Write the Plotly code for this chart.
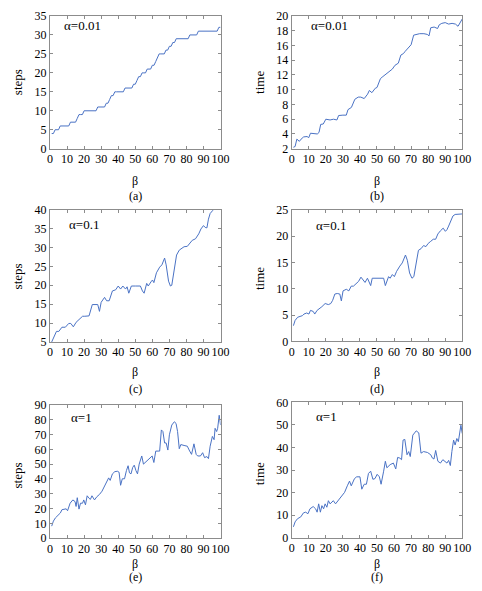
import plotly.graph_objects as go

# ventana 482x591; la pagina tiene 8 px de margen en el body
OFF = 8
W, H = 482 - OFF, 591 - OFF

# (a) pasos, alpha = 0.01  (beta = 1..100)
beta_a = list(range(1, 101))
steps_a = [4, 4, 5, 5, 5, 6, 6, 6, 6, 6,
           6, 7, 7, 7, 7, 8, 9, 9, 9, 10,
           10, 10, 10, 10, 10, 10, 10, 11, 11, 11,
           11, 11, 12, 12, 13, 14, 14, 15, 15, 15,
           15, 15, 15, 16, 16, 16, 16, 16, 17, 17,
           18, 19, 19, 20, 20, 20, 21, 21, 21, 22,
           22, 23, 24, 25, 25, 25, 25, 26, 26, 27,
           27, 28, 28, 29, 29, 29, 29, 29, 29, 29,
           29, 30, 30, 30, 30, 30, 31, 31, 31, 31,
           31, 31, 31, 31, 31, 31, 31, 31, 32, 32]

# (b) tiempo, alpha = 0.01
beta_b = [1, 2, 3, 4.5, 5.5, 7, 9, 10, 11, 13, 15, 16, 17, 18.5, 20, 22.5, 24.5, 26.5, 27.5, 30,
          32, 33, 35, 37, 39, 40.5, 42.5, 44.5, 45.5, 47, 49, 50, 52, 53, 54.5, 56, 57.5, 59, 60.5, 62.5,
          64, 65.5, 66.5, 68.5, 70, 71.5, 73, 75, 77.5, 79.5, 80.5, 81.5, 83.5, 85.5, 86.5, 88, 90, 92, 94, 96,
          97.5, 99, 100]
time_b = [2.2, 2.3, 3.3, 3.0, 3.3, 3.6, 3.65, 3.5, 4.1, 4.1, 4.0, 4.2, 5.3, 5.35, 6.0, 5.9, 6.0, 5.9, 6.5, 6.55,
          6.55, 7.3, 7.6, 8.7, 9.0, 9.0, 8.8, 9.4, 9.9, 9.6, 10.2, 10.3, 11.5, 11.7, 12.0, 12.3, 12.5, 12.8, 13.3, 13.6,
          14.7, 14.9, 15.2, 15.8, 16.1, 17.4, 17.5, 17.6, 17.6, 17.5, 17.3, 18.4, 18.5, 18.3, 18.8, 19.0, 19.1, 18.9, 19.0, 18.9,
          18.6, 19.2, 19.6]

# (c) pasos, alpha = 0.1
beta_c = [1, 2.3, 3.8, 5.2, 7, 9, 11, 12.2, 13.7, 15.3, 16.6, 17.6, 19.1, 20.4, 22.9, 24.8, 27, 28, 29, 30,
          32, 33.2, 34.7, 36.6, 38.5, 40, 41.4, 42.7, 44.3, 45.2, 46.2, 47.7, 50, 53, 54.2, 55.2, 56.7, 57.6, 59.2, 60.1,
          60.9, 62.4, 64.3, 65.6, 67.2, 68.1, 69.5, 70.6, 71.4, 72.9, 74.2, 75.8, 77.1, 78.6, 80.5, 81.9, 83.4, 85.3, 87.2, 88.5,
          90, 91, 92, 92.9, 93.9, 95.4, 97, 100]
steps_c = [5, 6.5, 7.8, 7.8, 8.9, 8.9, 9.9, 9.9, 9.0, 10.2, 10.8, 11.0, 11.8, 11.8, 11.9, 14.9, 14.9, 14.9, 13.1, 15.5,
           16.8, 15.9, 15.9, 18.5, 18.8, 19.8, 19.0, 19.8, 19.0, 19.6, 17.9, 19.8, 19.8, 19.8, 18.5, 17.9, 20.5, 19.8, 20.9, 21.4,
           20.7, 23.3, 24.8, 25.4, 27.2, 25.4, 21.1, 19.8, 20.0, 24.1, 28.0, 29.3, 29.7, 30.2, 30.3, 31.2, 31.9, 32.3, 33.6, 34.9,
           35.8, 35.3, 35.2, 37.5, 39.0, 39.8, 41, 43]

# (d) tiempo, alpha = 0.1
beta_d = [1, 2, 3.5, 5.3, 6.3, 7.2, 8.8, 10.1, 11, 12.6, 13.5, 14.9, 16.4, 17.7, 19.6, 21.5, 22.9, 24, 25.3, 26.7,
          28.2, 29.1, 30.1, 32, 33.5, 34.9, 36.2, 37.7, 39.2, 40.6, 41.9, 43, 44.4, 45.3, 46.3, 47.2, 49, 52, 53.9, 54.9,
          55.8, 56.8, 57.7, 59, 60.2, 61.5, 63.4, 64.8, 66.7, 67.8, 69.1, 70.5, 71.6, 73, 74.3, 75.8, 77.3, 78.7, 80, 81.5,
          83, 84.4, 85.7, 87.2, 88.8, 90.1, 91, 92, 93, 94.5, 95.8, 97.7, 100]
time_d = [3.0, 4.0, 4.6, 4.8, 4.9, 5.2, 5.4, 5.2, 5.9, 5.7, 5.2, 5.9, 6.2, 6.6, 7.2, 7.0, 7.2, 7.8, 9.0, 9.1,
          9.0, 7.7, 9.6, 9.9, 9.6, 10.5, 10.5, 11.0, 11.4, 12.2, 11.7, 11.2, 12.0, 11.4, 10.6, 12.0, 12.0, 12.0, 12.0, 10.6,
          11.4, 12.3, 12.0, 12.7, 12.3, 13.3, 14.3, 14.9, 16.4, 15.4, 13.0, 12.0, 12.3, 15.4, 17.3, 17.6, 18.2, 18.0, 18.6, 19.0,
          19.4, 19.4, 20.4, 21.0, 21.5, 20.9, 21.2, 21.9, 22.8, 23.8, 24.1, 24.1, 24.2]

# (e) pasos, alpha = 1
beta_e = [1, 2, 3.2, 4.6, 6.1, 7, 8.4, 9.5, 10.3, 11.8, 13.4, 14.7, 15.3, 16, 17, 17.9, 19.1, 19.8, 20.8, 21.8,
          22.9, 23.7, 24.6, 26.1, 27.5, 29, 30.5, 31.9, 33.2, 34.4, 35.3, 36.6, 38, 39.5, 40.5, 41.4, 42.4, 43.7, 44.8, 45.8,
          46.6, 47.5, 48.5, 49.4, 50.4, 51.3, 52.3, 53.8, 54.8, 56.7, 58.6, 59.9, 60.9, 62, 63.4, 64.3, 65.3, 66.2, 67.2, 68.1,
          69.1, 70, 71.4, 72.9, 73.9, 74.8, 75.8, 76.7, 78.6, 80.5, 81.9, 83, 84.4, 85.7, 86.6, 88.2, 89.5, 90.6, 92, 92.9,
          93.9, 95.2, 96.2, 96.8, 97.7, 98.3, 99.2, 100]
steps_e = [8.1, 11.5, 13.7, 15.4, 17.0, 19.2, 19.6, 19.8, 18.5, 23.6, 25.8, 24.7, 21.4, 27.3, 19.6, 23.6, 23.6, 25.8, 22.5, 28.6,
           26.9, 26.2, 28.6, 25.8, 28.0, 29.5, 31.7, 34.6, 37.9, 40.7, 39.0, 43.4, 44.9, 45.2, 44.5, 35.7, 40.1, 40.1, 45.6, 48.9,
           44.1, 43.4, 47.8, 49.3, 45.6, 43.4, 50.0, 55.5, 50.0, 52.2, 54.4, 55.5, 51.1, 58.8, 58.8, 58.8, 73.1, 72.0, 64.3, 64.3,
           59.5, 69.8, 76.4, 78.6, 77.5, 72.0, 60.4, 63.2, 62.6, 62.1, 58.8, 56.6, 63.7, 56.6, 55.5, 55.5, 57.7, 54.4, 55.1, 53.7,
           62.1, 68.7, 66.5, 74.2, 72.0, 74.2, 83.0, 76.4]

# (f) tiempo, alpha = 1
beta_f = [1, 2, 3.4, 5.3, 6.9, 8.2, 9.5, 10.7, 12.6, 14, 14.9, 15.8, 16.8, 17.7, 18.7, 19.6, 20.6, 21.5, 22.5, 23.4,
          24.4, 25.7, 26.7, 28.2, 29.7, 31, 32.6, 33.9, 34.9, 36.8, 38.1, 40, 41.1, 42.5, 43.8, 45, 46.3, 47.6, 48.8, 50.1,
          51.4, 52.4, 53.9, 54.9, 55.8, 57.7, 59.6, 61, 62.1, 63.4, 64.4, 65.3, 66.3, 67.6, 68.6, 69.5, 71, 73, 74.5, 75.8,
          77.3, 79.6, 81.5, 82.5, 83.4, 84.4, 85.7, 87.2, 88.6, 90.1, 91, 92, 93, 93.9, 94.9, 95.8, 96.8, 97.7, 98.7, 99.2,
          100]
time_f = [4.8, 7.0, 8.4, 9.2, 11.0, 11.3, 10.6, 12.8, 13.8, 12.8, 11.3, 15.0, 11.3, 14.2, 12.8, 15.0, 13.5, 16.4, 15.0, 15.7,
          16.4, 15.0, 16.0, 17.2, 18.6, 20.1, 23.0, 25.1, 23.0, 26.2, 27.0, 27.0, 21.5, 23.7, 23.7, 28.5, 29.5, 25.9, 26.2, 28.1,
          27.0, 23.7, 29.5, 33.9, 31.0, 32.4, 33.1, 30.5, 35.6, 35.3, 34.6, 43.3, 43.6, 36.8, 38.2, 36.0, 45.5, 47.4, 46.5, 37.5,
          38.2, 37.8, 36.8, 35.3, 34.9, 38.7, 33.9, 33.1, 34.6, 33.9, 33.1, 34.3, 32.0, 38.2, 43.3, 41.1, 44.0, 42.6, 48.4, 49.9,
          46.2]

# posiciones en pixeles (de la imagen) de cada panel
panels = [
    dict(x=beta_a, y=steps_a, px=(48, 223), py=(9, 145), yr=[0, 35], dt=5, yt="steps", yt_pos=(15, 77),
         alpha="α=0.01", a_pos=(60, 19), b_y=178, tag="(a)", t_y=193),
    dict(x=beta_b, y=time_b, px=(296, 471), py=(9, 145), yr=[2, 20], dt=2, yt="time", yt_pos=(263, 77),
         alpha="α=0.01", a_pos=(314, 19), b_y=178, tag="(b)", t_y=193),
    dict(x=beta_c, y=steps_c, px=(48, 223), py=(207.5, 343), yr=[5, 40], dt=5, yt="steps", yt_pos=(15, 276),
         alpha="α=0.1", a_pos=(65, 223), b_y=374, tag="(c)", t_y=391),
    dict(x=beta_d, y=time_d, px=(296, 471), py=(207.5, 342.5), yr=[0, 25], dt=5, yt="time", yt_pos=(263, 278),
         alpha="α=0.1", a_pos=(319, 224), b_y=374, tag="(d)", t_y=391),
    dict(x=beta_e, y=steps_e, px=(48, 223), py=(407.5, 544), yr=[0, 90], dt=10, yt="steps", yt_pos=(15, 480),
         alpha="α=1", a_pos=(67, 420), b_y=570, tag="(e)", t_y=584),
    dict(x=beta_f, y=time_f, px=(296, 471), py=(405, 543.5), yr=[0, 60], dt=10, yt="time", yt_pos=(263, 478),
         alpha="α=1", a_pos=(319, 419), b_y=570, tag="(f)", t_y=584),
]


def fx(v):
    return (v - OFF) / W


def fy(v):
    return 1 - (v - OFF) / H


FONT = "Times New Roman"
frame = "#8c8c8c"

fig = go.Figure()
annots = []
lay = {}

for i, p in enumerate(panels):
    n = "" if i == 0 else str(i + 1)
    fig.add_trace(go.Scatter(x=p["x"], y=p["y"], mode="lines",
                             line=dict(color="#4a72c4", width=1),
                             xaxis="x" + n, yaxis="y" + n, showlegend=False))
    ejes = dict(showline=True, linecolor=frame, linewidth=1, mirror="ticks",
                ticks="inside", ticklen=3, tickcolor=frame, showgrid=False, zeroline=False,
                tickfont=dict(family=FONT, size=12, color="black"))
    lay["xaxis" + n] = dict(domain=[fx(p["px"][0]), fx(p["px"][1])], anchor="y" + n,
                            range=[0, 100], dtick=10, tick0=0, ticklabelstandoff=-1, **ejes)
    lay["yaxis" + n] = dict(domain=[fy(p["py"][1]), fy(p["py"][0])], anchor="x" + n,
                            range=p["yr"], dtick=p["dt"], tick0=0, **ejes)
    cx = (p["px"][0] + p["px"][1]) / 2
    annots += [
        dict(text=p["yt"], x=fx(p["yt_pos"][0]), y=fy(p["yt_pos"][1]), textangle=-90,
             font=dict(family=FONT, size=13)),
        dict(text=p["alpha"], x=fx(p["a_pos"][0]), y=fy(p["a_pos"][1]), xanchor="left",
             font=dict(family=FONT, size=13)),
        dict(text="β", x=fx(cx), y=fy(p["b_y"]), font=dict(family=FONT, size=12)),
        dict(text=p["tag"], x=fx(cx), y=fy(p["t_y"]), font=dict(family=FONT, size=12)),
    ]

for a in annots:
    a.update(xref="paper", yref="paper", showarrow=False)
    a.setdefault("xanchor", "center")
    a["yanchor"] = "middle"
    a["font"]["color"] = "black"

fig.update_layout(width=W, height=H, margin=dict(l=0, r=0, t=0, b=0),
                  paper_bgcolor="white", plot_bgcolor="white",
                  annotations=annots, **lay)

fig.write_html("out.html")
